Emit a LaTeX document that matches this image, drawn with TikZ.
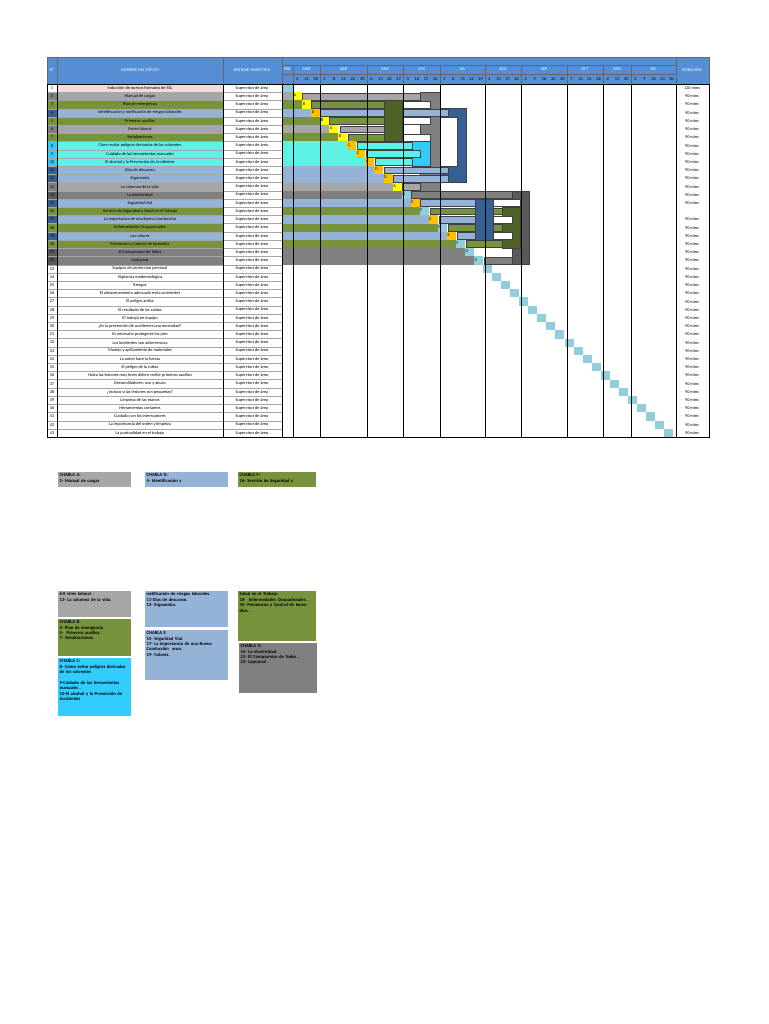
\documentclass[tikz,border=0pt]{standalone}
\usepackage{fontspec}
\setmainfont{Carlito}
\definecolor{hb}{HTML}{558ED5}
\definecolor{cg}{HTML}{A6A6A6}\definecolor{cgd}{HTML}{808080}
\definecolor{cn}{HTML}{77933C}\definecolor{cnd}{HTML}{4F6228}
\definecolor{cb}{HTML}{95B3D7}\definecolor{cbd}{HTML}{366092}
\definecolor{cc}{HTML}{5EF2E6}\definecolor{ccd}{HTML}{33CCFF}
\definecolor{ck}{HTML}{808080}\definecolor{ckd}{HTML}{595959}
\definecolor{cp}{HTML}{F2DCDB}\definecolor{lb}{HTML}{92CDDC}
\definecolor{yl}{HTML}{FFFF00}\definecolor{og}{HTML}{FFC000}
\newcommand\T[1]{{84+(#1-1)*8.21}}
\newcommand\B[1]{{84+(#1)*8.21}}
\newcommand\gbar[4]{\fill[#4,draw=black!75,line width=0.4pt] (#1,{84+(#3-1)*8.21+0.7}) rectangle (#2,{84+#3*8.21-0.7});}
\newcommand\spine[5]{\fill[#5,draw=black!75,line width=0.4pt] (#1,\T{#3}) rectangle (#2,\B{#4});}
\tikzset{tx/.style={font=\fontsize{4.3}{5}\selectfont,inner sep=0pt},
 hd/.style={font=\fontsize{4.3}{5}\selectfont,text=white,inner sep=0pt},
 lg/.style={font=\bfseries\fontsize{4.6}{5.4}\selectfont,align=left,anchor=north west,inner sep=1.5pt,text width=70pt}}
\begin{document}
\begin{tikzpicture}[x=1pt,y=-1pt]
\useasboundingbox (0,0) rectangle (768,1024);
% header
\fill[hb] (47,57) rectangle (709,84);
\draw[black!60,line width=0.5pt] (47,57) rectangle (709,84);
\draw[black!60] (57,57)--(57,84) (223,57)--(223,84) (282,57)--(282,84) (676,57)--(676,84) (282,65)--(676,65) (282,74)--(676,74);
\node[hd] (hno) at (52,70) {Nº};
\node[hd] (hname) at (140,70) {NOMBRE DEL TÓPICO};
\node[hd] (hent) at (252,70) {ENTIDAD DIDÁCTICA};
\node[hd] (hdur) at (692,70) {DURACIÓN};
\foreach \a/\b/\m in {282/293/FEB,293/320/MAR,320/367/ABR,367/403/MAY,403/440/JUN,440/485/JUL,485/521/AGO,521/567/SEP,567/603/OCT,603/631/NOV,631/676/DIC}{
 \node[hd] (m\m) at ({(\a+\b)/2},69.5) {\m};
 \draw[black!60] (\a,65)--(\a,84);}
\foreach \a/\b/\l in {293/320/{4,11,18},320/367/{1,8,15,22,29},367/403/{6,13,20,27},403/440/{3,10,17,24},440/485/{1,8,15,22,29},485/521/{5,12,19,26},521/567/{2,9,16,23,30},567/603/{7,14,21,28},603/631/{4,11,25},631/676/{2,9,16,23,30}}{
 \foreach \d [count=\k] in \l {\xdef\nn{\k}}
 \foreach \d [count=\k] in \l {
  \pgfmathsetmacro\xx{\a+(\k-0.5)*(\b-\a)/\nn}
  \node[hd,text=black] (w\a-\k) at (\xx,79) {\d};}}
% rows
\def\names{{"Inducción de nuevos formatos de SSL","Manual de cargas","Plan de emergencia","Identificación y notificación de riesgos laborales","Primeros auxilios","Estrés laboral","Señalizaciones","Cómo evitar peligros derivados de los solventes","Cuidado de las herramientas manuales","El alcohol y la Prevención de  Accidentes","Días de descanso","Ergonomía","La columna de la vida","La electricidad","Seguridad Vial","Servicio de Seguridad y Salud en el Trabajo","La Importancia de una Buena Conducción","Enfermedades Ocupacionales","Los colores","Prevencion y Control de Incendios","El Compromiso de Todos","Lopcymat","Equipos de proteccion personal","Vigilancia epidemiológica","Riesgos","El almacenamiento adecuado evita accidentes","El peligro arriba","El resultado de las caídas","El trabajo en equipo","¿Es la prevención de accidentes una necesidad?","Es necesario protegerse los pies","Los incidentes son advertencias","Manejo y aplilamiento de materiales","La union hace la fuerza","El peligro de la rutina","Hasta las lesiones muy leves deben recibir primeros auxilios","Destornilladores: uso y abuso","¿Incluso si las lesiones son pequeñas?","Limpieza de las manos","Herramientas cortantes","Cuidado con los interruptores","La importancia del orden y limpieza","La puntualidad en el trabajo"}}
\foreach \i/\c/\n in {1/cp/white,2/cg/cgd,3/cn/cn,4/cb/cbd,5/cn/cn,6/cg/cgd,7/cn/cn,8/cc/ccd,9/cc/ccd,10/cc/ccd,11/cb/cbd,12/cb/cbd,13/cg/cgd,14/ck/ckd,15/cb/cbd,16/cn/cn,17/cb/cbd,18/cn/cn,19/cb/cbd,20/cn/cn,21/ck/ckd,22/ck/ckd}{
 \fill[\c] (57,\T{\i}) rectangle (223,\B{\i});
 \fill[\n] (47,\T{\i}) rectangle (57,\B{\i});
 \ifnum\i>1 \fill[\c] (282,\T{\i}) rectangle ({293+(\i-2)*9.05},\B{\i}); \fi}
\fill[lb] (282,\T{1}) rectangle (293,\B{1});
\foreach \i in {1,...,43}{
 \pgfmathsetmacro\yy{84+(\i-0.5)*8.21}
 \pgfmathsetmacro\nm{\names[\i-1]}
 \node[tx] (n\i) at (52,\yy) {\i};
 \node[tx] (t\i) at (140,\yy) {\nm};
 \node[tx] (e\i) at (252,\yy) {Supervisor de área};
 \ifnum\i=16 \else \node[tx] (d\i) at (692,\yy) {\ifnum\i=1 120\else 90\fi\ mins}; \fi
 \draw[black!35,line width=0.2pt] (47,\B{\i})--(282,\B{\i});}
\foreach \i in {23,...,43}{\fill[lb] ({293+(\i-2)*9.05},\T{\i}) rectangle ({302+(\i-2)*9.05},\B{\i});}
% groups
\spine{420}{440}{2}{13}{cgd}
\gbar{302}{420}{2}{cg}\gbar{340}{393}{6}{cg}\gbar{402}{420}{13}{cg}
\foreach \i in {3,5,7}{\gbar{403}{430}{\i}{white}}
\spine{440}{466}{4}{12}{cbd}
\fill[white,draw=black!75,line width=0.4pt] (440,\T{5}) rectangle (457,\B{10});
\gbar{320}{448}{4}{cb}\gbar{384}{448}{11}{cb}\gbar{393}{448}{12}{cb}
\spine{384}{402}{3}{7}{cnd}
\gbar{311}{384}{3}{cn}\gbar{329}{384}{5}{cn}\gbar{348}{384}{7}{cn}
\spine{412}{430}{8}{10}{ccd}
\gbar{357}{412}{8}{cc}\gbar{366}{420}{9}{cc}\gbar{375}{412}{10}{cc}
\spine{512}{529}{14}{22}{ckd}
\gbar{411}{512}{14}{ck}\gbar{484}{512}{22}{ck}
\spine{502}{520}{16}{20}{cnd}
\gbar{430}{502}{16}{cn}\gbar{448}{502}{18}{cn}\gbar{466}{502}{20}{cn}
\spine{475}{493}{15}{19}{cbd}
\gbar{420}{475}{15}{cb}\gbar{439}{475}{17}{cb}\gbar{457}{475}{19}{cb}
\gbar{493}{520}{15}{white}\gbar{493}{512}{17}{white}\gbar{493}{512}{19}{white}
% letters
\foreach \i/\l/\c in {2/A/yl,3/B/yl,4/D/og,5/B/yl,6/A/yl,7/B/yl,8/C/og,9/C/og,10/C/og,11/D/og,12/D/og,13/A/yl,14/G/lb,15/E/og,16/F/lb,17/E/og,18/F/lb,19/E/og,20/F/lb,21/G/lb,22/G/lb}{
 \fill[\c] ({293+(\i-2)*9.05},\T{\i}) rectangle ({302+(\i-2)*9.05},\B{\i});
 \node[tx,anchor=west] (L\i) at ({293.5+(\i-2)*9.05},{84+(\i-0.6)*8.21}) {\l};}
% grid lines
\draw[black,line width=0.6pt] (47,84) rectangle (709,437);
\foreach \x in {57,223,282,676}{\draw[black,line width=0.4pt] (\x,84)--(\x,437);}
\foreach \x in {293,320,367,403,440,485,521,567,603,631}{\draw[black,line width=0.8pt] (\x,84)--(\x,437);}
% legend
\fill[cg] (58,472) rectangle (131,487); \node[lg] (la) at (58,472) {CHARLA A:\\2- Manual de cargas};
\fill[cb] (145,472) rectangle (228,487); \node[lg] (ld) at (145,472) {CHARLA D:\\4- Identificación y};
\fill[cn] (238,472) rectangle (316,487); \node[lg] (lf) at (238,472) {CHARLA F:\\16- Servicio de Seguridad y};
\fill[cg] (58,591) rectangle (131,617); \node[lg] (la2) at (58,591) {6-E strés laboral .\\13- La columna de la vida.};
\fill[cn] (58,619) rectangle (131,656); \node[lg] (lb) at (58,619) {CHARLA B:\\3- Plan de emergencia\\5-\ \ Primeros auxilios .\\7- Señalizaciones.};
\fill[ccd] (58,658) rectangle (131,716); \node[lg,text width=68pt] (lc) at (58,658) {CHARLA C:\\8- Cómo evitar peligros derivados de los solventes\\.\\9-Cuidado de las herramientas manuales .\\10-El alcohol y la Prevención de\ \ Accidentes};
\fill[cb] (145,591) rectangle (228,627); \node[lg] (ld2) at (145,591) {notificación de riesgos laborales.\\11-Días de descanso.\\12- Ergonomía.};
\fill[cb] (145,630) rectangle (228,680); \node[lg] (le) at (145,630) {CHARLA E\\15- Seguridad Vial.\\17- La importancia de una Buena Conducción\ \ anso.\\19- Colores.};
\fill[cn] (238,591) rectangle (316,641); \node[lg] (lf2) at (238,591) {Salud en el Trabajo.\\18-\ \ Enfermedades Ocupacionales .\\20- Prevencion y Control de Incendios .};
\fill[ck] (239,643) rectangle (317,693); \node[lg] (lg) at (239,643) {CHARLA G:\\14- La electricidad.\\21- El Compromiso de Todos .\\22- Lopcymal .};
\end{tikzpicture}
\end{document}
